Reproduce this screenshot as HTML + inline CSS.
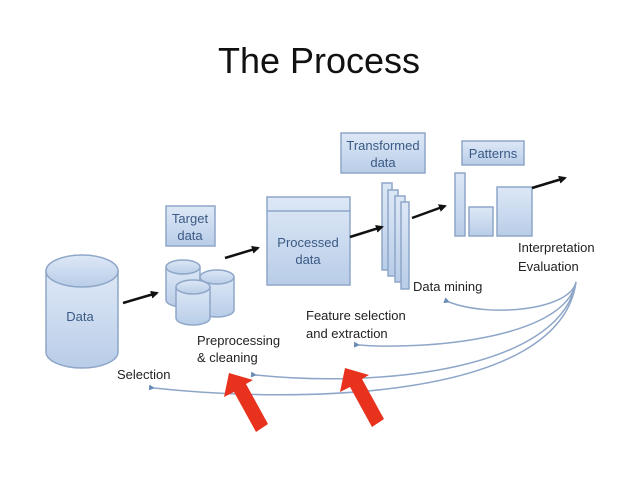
<!DOCTYPE html>
<html><head><meta charset="utf-8"><style>
html,body{margin:0;padding:0;background:#fff;}
svg{display:block;}
text{font-family:"Liberation Sans",sans-serif;}
</style></head><body>
<svg width="638" height="478" viewBox="0 0 638 478" xmlns="http://www.w3.org/2000/svg">
<defs>
<linearGradient id="g" x1="0" y1="0" x2="0" y2="1"><stop offset="0" stop-color="#dde8f6"/><stop offset="1" stop-color="#b9cde8"/></linearGradient>
<linearGradient id="gh" x1="0" y1="0" x2="1" y2="0"><stop offset="0" stop-color="#dde8f6"/><stop offset="1" stop-color="#b9cde8"/></linearGradient>
<marker id="ah" markerWidth="8" markerHeight="8" refX="6" refY="4" orient="auto" markerUnits="userSpaceOnUse"><path d="M0,0 L8,4 L0,8 z" fill="#111"/></marker>
<marker id="bh" markerWidth="6" markerHeight="6" refX="1" refY="3" orient="auto" markerUnits="userSpaceOnUse"><path d="M6,0 L0,3 L6,6 z" fill="#6a8cb5"/></marker>
</defs>
<text x="319" y="73" font-size="36" text-anchor="middle" fill="#111">The Process</text>
<g stroke="#8ea6c8" stroke-width="1.5" fill="url(#g)">
<!-- Data cylinder -->
<path d="M46,271 V352 A36,16 0 0 0 118,352 V271"/>
<ellipse cx="82" cy="271" rx="36" ry="16"/>
<!-- target -->
<rect x="166" y="206" width="49" height="40"/>
<path d="M166,267 V300 A17,7 0 0 0 200,300 V267"/><ellipse cx="183" cy="267" rx="17" ry="7"/>
<path d="M200,277 V310 A17,7 0 0 0 234,310 V277"/><ellipse cx="217" cy="277" rx="17" ry="7"/>
<path d="M176,287 V318 A17,7 0 0 0 210,318 V287"/><ellipse cx="193" cy="287" rx="17" ry="7"/>
<!-- processed -->
<rect x="267" y="197" width="83" height="88"/>
<line x1="267" y1="211" x2="350" y2="211"/>
<!-- transformed -->
<rect x="341" y="133" width="84" height="40"/>
<rect x="382" y="183" width="10" height="87"/>
<rect x="388" y="190" width="10" height="86"/>
<rect x="395" y="196" width="10" height="86"/>
<rect x="401" y="202" width="8" height="87"/>
<!-- patterns -->
<rect x="462" y="141" width="62" height="24"/>
<rect x="455" y="173" width="10" height="63"/>
<rect x="469" y="207" width="24" height="29"/>
<rect x="497" y="187" width="35" height="49"/>
</g>
<g font-size="13" fill="#3a5a85" text-anchor="middle">
<text x="80" y="321">Data</text>
<text x="190" y="223">Target</text><text x="190" y="240">data</text>
<text x="308" y="247">Processed</text><text x="308" y="264">data</text>
<text x="383" y="150">Transformed</text><text x="383" y="167">data</text>
<text x="493" y="158">Patterns</text>
</g>
<g stroke="#111" stroke-width="2.5" marker-end="url(#ah)">
<line x1="123" y1="303" x2="157" y2="293"/>
<line x1="225" y1="258" x2="258" y2="248"/>
<line x1="350" y1="237" x2="382" y2="227"/>
<line x1="412" y1="218" x2="445" y2="206"/>
<line x1="532" y1="188" x2="565" y2="178"/>
</g>
<g font-size="13" fill="#222">
<text x="518" y="252">Interpretation</text><text x="518" y="271">Evaluation</text>
<text x="413" y="291">Data mining</text>
<text x="306" y="320">Feature selection</text><text x="306" y="338">and extraction</text>
<text x="197" y="345">Preprocessing</text><text x="197" y="362">&amp; cleaning</text>
<text x="117" y="379">Selection</text>
</g>
<g fill="none" stroke="#8ea6c8" stroke-width="1.5">
<path d="M576,282 C570,310 490,318 449,302" marker-end="url(#bh)"/>
<path d="M576,282 C565,340 420,350 359,345" marker-end="url(#bh)"/>
<path d="M576,282 C560,370 380,388 256,375" marker-end="url(#bh)"/>
<path d="M576,282 C560,400 300,404 154,388" marker-end="url(#bh)"/>
</g>
<g fill="#e8321e">
<polygon points="229,373 253,380 246,384 268,424 256,432 234,392 224,397"/>
<polygon points="345,368 369,375 362,379 384,419 372,427 350,387 340,392"/>
</g>
</svg>
</body></html>
